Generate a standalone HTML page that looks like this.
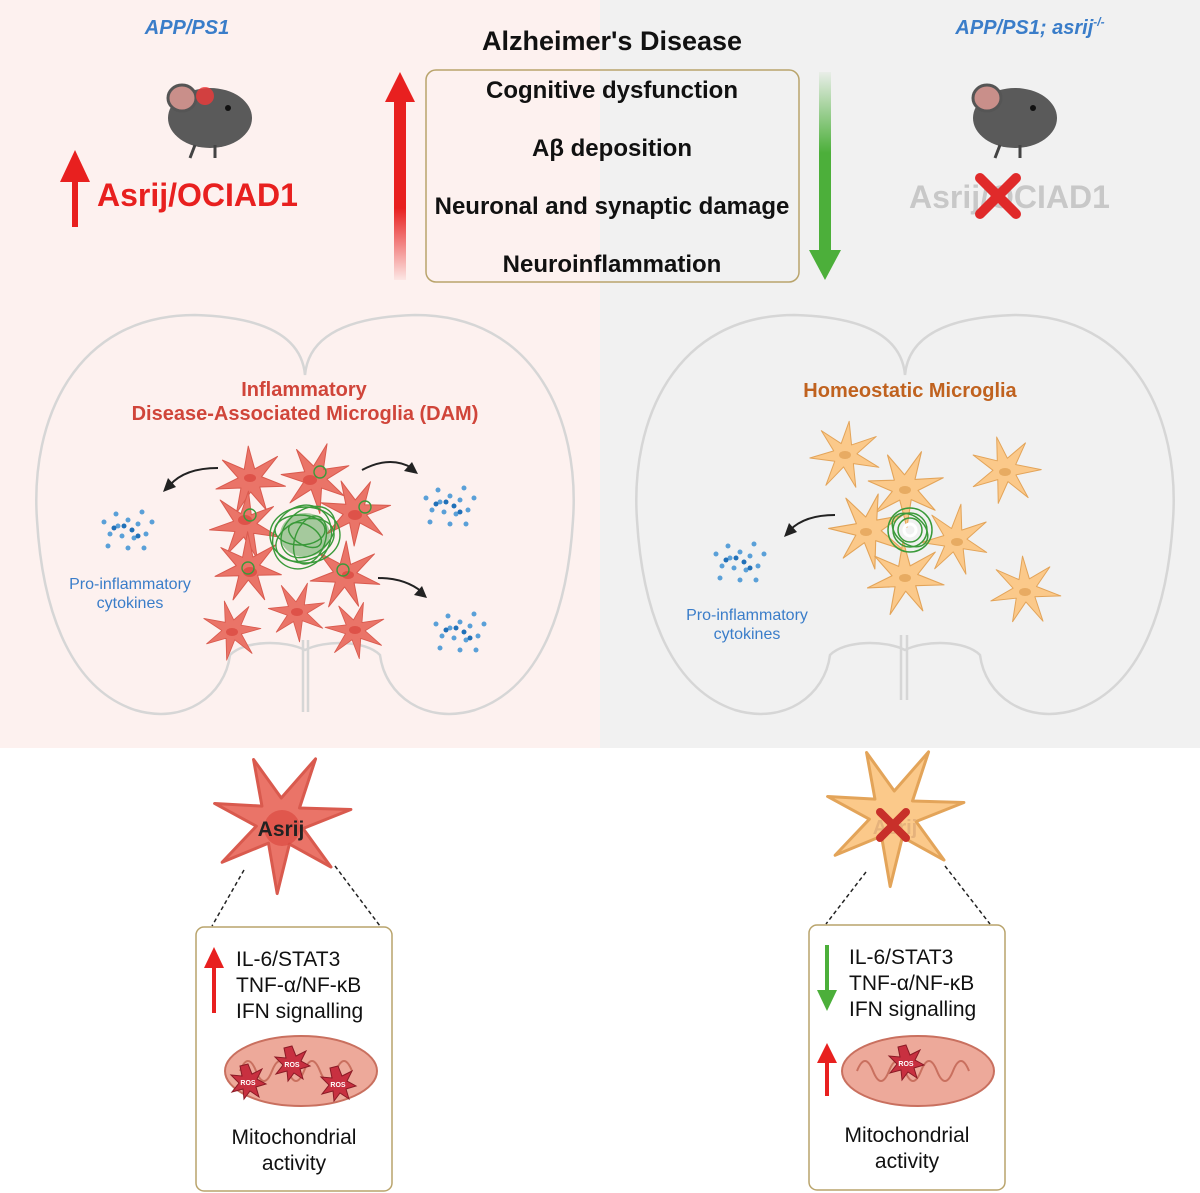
<!DOCTYPE html>
<html><head><meta charset="utf-8"><style>
body{margin:0;width:1200px;height:1193px;overflow:hidden;background:#fff}
svg{display:block;font-family:"Liberation Sans",Arial,sans-serif}
</style></head><body>
<svg width="1200" height="1193" viewBox="0 0 1200 1193" xmlns="http://www.w3.org/2000/svg">
<defs>
<linearGradient id="rg" x1="0" y1="0" x2="0" y2="1"><stop offset="0" stop-color="#e8201f"/><stop offset="0.6" stop-color="#e8201f"/><stop offset="1" stop-color="#e8201f" stop-opacity="0.05"/></linearGradient>
<linearGradient id="gg" x1="0" y1="0" x2="0" y2="1"><stop offset="0" stop-color="#4caf3a" stop-opacity="0.05"/><stop offset="0.45" stop-color="#4caf3a"/><stop offset="1" stop-color="#4caf3a"/></linearGradient>
<symbol id="cell" viewBox="-40 -40 80 80" overflow="visible">
<polygon points="36,0 10.8,5.2 21.2,26.6 2.7,11.7 -7.6,35 -7.5,9.4 -32,14.8 -12,0 -30.6,-14.8 -7.5,-9.4 -7.6,-33.1 2.7,-11.7 23,-28 10.8,-5.2" stroke-linejoin="round"/>
</symbol>
<symbol id="dots" overflow="visible">
<g fill="#5aa0d8"><circle cx="0" cy="0" r="2.5"/><circle cx="10" cy="-6" r="2.5"/><circle cx="20" cy="-2" r="2.5"/><circle cx="-8" cy="8" r="2.5"/><circle cx="4" cy="10" r="2.5"/><circle cx="16" cy="12" r="2.5"/><circle cx="28" cy="8" r="2.5"/><circle cx="-14" cy="-4" r="2.5"/><circle cx="-2" cy="-12" r="2.5"/><circle cx="24" cy="-14" r="2.5"/><circle cx="-10" cy="20" r="2.5"/><circle cx="10" cy="22" r="2.5"/><circle cx="26" cy="22" r="2.5"/><circle cx="34" cy="-4" r="2.5"/></g>
<g fill="#2070b8"><circle cx="6" cy="0" r="2.5"/><circle cx="14" cy="4" r="2.5"/><circle cx="-4" cy="2" r="2.5"/><circle cx="20" cy="10" r="2.5"/></g>
</symbol>
<symbol id="ros" viewBox="-20 -20 40 40" overflow="visible">
<polygon points="0,-18 4,-8 14,-13 9,-3 18,2 8,5 11,15 2,9 -4,17 -5,7 -16,10 -9,1 -17,-7 -6,-6 -8,-16" fill="#c83040" stroke="#8a1a25" stroke-width="1"/>
<text x="0" y="3" font-size="7" fill="#fff" text-anchor="middle" font-weight="bold">ROS</text>
</symbol>
</defs>
<rect x="0" y="0" width="600" height="748" fill="#fdf1ef"/>
<rect x="600" y="0" width="600" height="748" fill="#f1f1f1"/>

<!-- Brains -->
<g fill="none" stroke="#d6d6d6" stroke-width="2.5">
<path d="M305,375 Q300,318 195,315 C75,315 30,420 37,520 C43,620 75,690 135,710 C185,725 225,695 230,655 C245,640 285,640 305,650 C325,640 365,640 380,655 C385,695 425,725 475,710 C535,690 567,620 573,520 C580,420 535,315 415,315 Q310,318 305,375Z"/>
<path d="M303,640 L303,712 M308,640 L308,712"/>
<path d="M905,375 Q900,318 795,315 C675,315 630,420 637,520 C643,620 675,690 735,710 C785,725 825,695 830,655 C845,640 885,640 905,650 C925,640 965,640 980,655 C985,695 1025,725 1075,710 C1135,690 1167,620 1173,520 C1180,420 1135,315 1015,315 Q910,318 905,375Z"/>
<path d="M901,635 L901,700 M907,635 L907,700"/>
</g>

<!-- Top text -->
<text x="612" y="50" font-size="27" font-weight="bold" text-anchor="middle" fill="#111">Alzheimer's Disease</text>
<rect x="426" y="70" width="373" height="212" rx="10" fill="none" stroke="#b9a46c" stroke-width="1.5"/>
<g font-size="24" font-weight="bold" text-anchor="middle" fill="#111">
<text x="612" y="98">Cognitive dysfunction</text>
<text x="612" y="156">Aβ deposition</text>
<text x="612" y="214">Neuronal and synaptic damage</text>
<text x="612" y="272">Neuroinflammation</text>
</g>
<rect x="394" y="100" width="12" height="180" fill="url(#rg)"/>
<polygon points="385,102 400,72 415,102" fill="#e8201f"/>
<rect x="819" y="72" width="12" height="180" fill="url(#gg)"/>
<polygon points="809,250 825,280 841,250" fill="#4caf3a"/>

<!-- left header -->
<text x="187" y="34" font-size="20" font-weight="bold" font-style="italic" text-anchor="middle" fill="#3a7dc9">APP/PS1</text>
<g>
<ellipse cx="210" cy="118" rx="42" ry="30" fill="#5a5a5a"/>
<polygon points="240,100 252,118 240,132" fill="#5a5a5a"/>
<ellipse cx="182" cy="98" rx="14" ry="13" fill="#c98f8a" stroke="#555" stroke-width="3"/>
<circle cx="205" cy="96" r="9" fill="#f03a3a" opacity="0.8"/>
<circle cx="228" cy="108" r="3" fill="#111"/>
<path d="M195,145 L190,158 M215,145 L215,158" stroke="#444" stroke-width="3"/>
</g>
<rect x="72" y="175" width="6" height="52" fill="#e8201f"/>
<polygon points="60,182 75,150 90,182" fill="#e8201f"/>
<text x="97" y="206" font-size="32" font-weight="bold" fill="#e8201f">Asrij/OCIAD1</text>

<!-- right header -->
<text x="1030" y="34" font-size="20" font-weight="bold" font-style="italic" text-anchor="middle" fill="#3a7dc9">APP/PS1; asrij<tspan font-size="12" dy="-8">-/-</tspan></text>
<g>
<ellipse cx="1015" cy="118" rx="42" ry="30" fill="#5a5a5a"/>
<polygon points="1045,100 1057,118 1045,132" fill="#5a5a5a"/>
<ellipse cx="987" cy="98" rx="14" ry="13" fill="#c98f8a" stroke="#555" stroke-width="3"/>
<circle cx="1033" cy="108" r="3" fill="#111"/>
<path d="M1000,145 L995,158 M1020,145 L1020,158" stroke="#444" stroke-width="3"/>
</g>
<text x="909" y="208" font-size="32" font-weight="bold" fill="#c8c8c8">Asrij/OCIAD1</text>
<path d="M980,178 L1016,214 M1016,178 L980,214" stroke="#e02a2a" stroke-width="10" stroke-linecap="round"/>

<!-- brain labels -->
<g font-size="20" font-weight="bold" text-anchor="middle">
<text x="304" y="396" fill="#d0453a">Inflammatory</text>
<text x="305" y="420" fill="#d0453a">Disease-Associated Microglia (DAM)</text>
<text x="910" y="397" fill="#c0621f">Homeostatic Microglia</text>
</g>

<!-- red cells -->
<g fill="#ea7468" stroke="#d95a4e" stroke-width="1">
<use href="#cell" x="-40" y="-40" width="80" height="80" transform="translate(250,480) rotate(10)"/>
<use href="#cell" x="-40" y="-40" width="80" height="80" transform="translate(315,478) rotate(-20)"/>
<use href="#cell" x="-40" y="-40" width="80" height="80" transform="translate(355,512) rotate(40)"/>
<use href="#cell" x="-40" y="-40" width="80" height="80" transform="translate(245,525) rotate(70)"/>
<use href="#cell" x="-40" y="-40" width="80" height="80" transform="translate(248,568) rotate(-40)"/>
<use href="#cell" x="-40" y="-40" width="80" height="80" transform="translate(345,575) rotate(15)"/>
<use href="#cell" x="-40" y="-40" width="80" height="80" transform="translate(232,630) rotate(100) scale(0.85)"/>
<use href="#cell" x="-40" y="-40" width="80" height="80" transform="translate(297,612) rotate(-70) scale(0.85)"/>
<use href="#cell" x="-40" y="-40" width="80" height="80" transform="translate(355,630) rotate(30) scale(0.85)"/>
</g>
<g fill="#d9453c" opacity="0.7">
<ellipse cx="250" cy="478" rx="6" ry="4"/><ellipse cx="310" cy="480" rx="7" ry="5"/><ellipse cx="355" cy="515" rx="7" ry="5"/><ellipse cx="245" cy="520" rx="7" ry="5"/><ellipse cx="250" cy="572" rx="7" ry="5"/><ellipse cx="348" cy="575" rx="6" ry="4"/><ellipse cx="232" cy="632" rx="6" ry="4"/><ellipse cx="297" cy="612" rx="6" ry="4"/><ellipse cx="355" cy="630" rx="6" ry="4"/>
</g>
<g fill="none" stroke="#3a9a3a" stroke-width="1.4">
<ellipse cx="305" cy="535" rx="35" ry="28"/><ellipse cx="302" cy="537" rx="28" ry="33" transform="rotate(30 302 537)"/><ellipse cx="308" cy="532" rx="30" ry="22" transform="rotate(-40 308 532)"/><ellipse cx="305" cy="540" rx="20" ry="30" transform="rotate(70 305 540)"/><ellipse cx="300" cy="530" rx="25" ry="15"/><ellipse cx="310" cy="540" rx="15" ry="25" transform="rotate(20 310 540)"/><ellipse cx="305" cy="535" rx="10" ry="18" transform="rotate(-60 305 535)"/>
<circle cx="320" cy="472" r="6"/><circle cx="250" cy="515" r="6"/><circle cx="365" cy="507" r="6"/><circle cx="248" cy="568" r="6"/><circle cx="343" cy="570" r="6"/>
</g>
<ellipse cx="305" cy="535" rx="25" ry="22" fill="#3a9a3a" opacity="0.45"/>

<!-- orange cells -->
<g fill="#fbc98a" stroke="#e3a459" stroke-width="1">
<use href="#cell" x="-40" y="-40" width="80" height="80" transform="translate(845,455) rotate(20)"/>
<use href="#cell" x="-40" y="-40" width="80" height="80" transform="translate(905,488) rotate(-15) scale(1.1)"/>
<use href="#cell" x="-40" y="-40" width="80" height="80" transform="translate(1005,470) rotate(50)"/>
<use href="#cell" x="-40" y="-40" width="80" height="80" transform="translate(868,530) rotate(80) scale(1.1)"/>
<use href="#cell" x="-40" y="-40" width="80" height="80" transform="translate(955,540) rotate(-30)"/>
<use href="#cell" x="-40" y="-40" width="80" height="80" transform="translate(905,578) rotate(10) scale(1.1)"/>
<use href="#cell" x="-40" y="-40" width="80" height="80" transform="translate(1025,590) rotate(60)"/>
</g>
<g fill="#e3a459" opacity="0.8">
<ellipse cx="845" cy="455" rx="6" ry="4"/><ellipse cx="905" cy="490" rx="6" ry="4"/><ellipse cx="1005" cy="472" rx="6" ry="4"/><ellipse cx="866" cy="532" rx="6" ry="4"/><ellipse cx="957" cy="542" rx="6" ry="4"/><ellipse cx="905" cy="578" rx="6" ry="4"/><ellipse cx="1025" cy="592" rx="6" ry="4"/>
</g>
<g fill="none" stroke="#3a9a3a" stroke-width="1.5">
<circle cx="910" cy="530" r="22"/><circle cx="910" cy="530" r="17"/><circle cx="910" cy="530" r="12"/><ellipse cx="910" cy="530" rx="20" ry="14" transform="rotate(40 910 530)"/><circle cx="910" cy="530" r="6" stroke="#fff" stroke-width="3"/>
</g>

<!-- dots -->
<use href="#dots" x="118" y="526"/>
<use href="#dots" x="440" y="502"/>
<use href="#dots" x="450" y="628"/>
<use href="#dots" x="730" y="558"/>

<!-- curved arrows -->
<g fill="none" stroke="#222" stroke-width="2">
<path d="M218,468 Q185,468 170,485"/><path d="M362,470 Q390,455 412,468"/><path d="M378,578 Q405,578 422,592"/><path d="M835,515 Q805,515 790,530"/>
</g>
<g fill="#222">
<polygon points="163,492 168,478 176,487"/><polygon points="418,474 404,471 412,462"/><polygon points="427,598 414,595 422,586"/><polygon points="784,537 789,523 797,532"/>
</g>
<g font-size="16" fill="#3a7dc9" text-anchor="middle">
<text x="130" y="589">Pro-inflammatory</text><text x="130" y="608">cytokines</text>
<text x="747" y="620">Pro-inflammatory</text><text x="747" y="639">cytokines</text>
</g>

<!-- bottom left -->
<g fill="#ea7468" stroke="#d95a4e" stroke-width="1.5">
<use href="#cell" x="-40" y="-40" width="80" height="80" transform="translate(280,822) rotate(-10) scale(2)"/>
</g>
<circle cx="282" cy="828" r="18" fill="#d9453c" opacity="0.6"/>
<text x="281" y="836" font-size="21" font-weight="bold" text-anchor="middle" fill="#222">Asrij</text>
<path d="M244,870 L212,926 M335,866 L380,926" stroke="#222" stroke-width="1.5" stroke-dasharray="4,3"/>
<rect x="196" y="927" width="196" height="264" rx="8" fill="#fff" stroke="#b9a46c" stroke-width="1.5"/>
<rect x="212" y="965" width="4" height="48" fill="#e8201f"/>
<polygon points="204,968 214,947 224,968" fill="#e8201f"/>
<g font-size="21" fill="#111"><text x="236" y="966">IL-6/STAT3</text><text x="236" y="992">TNF-α/NF-κB</text><text x="236" y="1018">IFN signalling</text></g>
<ellipse cx="301" cy="1071" rx="76" ry="35" fill="#eda99a" stroke="#c9705f" stroke-width="2"/>
<path d="M240,1071 q8,-20 16,0 q8,20 16,0 q8,-20 16,0 q8,20 16,0 q8,-20 16,0 q8,20 16,0 q8,-20 16,0" fill="none" stroke="#c9705f" stroke-width="2"/>
<use href="#ros" x="228" y="1062" width="40" height="40"/>
<use href="#ros" x="272" y="1044" width="40" height="40"/>
<use href="#ros" x="318" y="1064" width="40" height="40"/>
<g font-size="21" fill="#111" text-anchor="middle"><text x="294" y="1144">Mitochondrial</text><text x="294" y="1170">activity</text></g>

<!-- bottom right -->
<g fill="#fbc98a" stroke="#e3a459" stroke-width="1.5">
<use href="#cell" x="-40" y="-40" width="80" height="80" transform="translate(893,815) rotate(-10) scale(2)"/>
</g>
<text x="895" y="834" font-size="20" font-weight="bold" text-anchor="middle" fill="#e5b27c">Asrij</text>
<path d="M880,812 L906,838 M906,812 L880,838" stroke="#c8302a" stroke-width="8" stroke-linecap="round"/>
<path d="M866,872 L826,924 M945,866 L990,924" stroke="#222" stroke-width="1.5" stroke-dasharray="4,3"/>
<rect x="809" y="925" width="196" height="265" rx="8" fill="#fff" stroke="#b9a46c" stroke-width="1.5"/>
<rect x="825" y="945" width="4" height="48" fill="#4caf3a"/>
<polygon points="817,990 827,1011 837,990" fill="#4caf3a"/>
<g font-size="21" fill="#111"><text x="849" y="964">IL-6/STAT3</text><text x="849" y="990">TNF-α/NF-κB</text><text x="849" y="1016">IFN signalling</text></g>
<rect x="825" y="1060" width="4" height="36" fill="#e8201f"/>
<polygon points="817,1063 827,1043 837,1063" fill="#e8201f"/>
<ellipse cx="918" cy="1071" rx="76" ry="35" fill="#eda99a" stroke="#c9705f" stroke-width="2"/>
<path d="M857,1071 q8,-20 16,0 q8,20 16,0 q8,-20 16,0 q8,20 16,0 q8,-20 16,0 q8,20 16,0 q8,-20 16,0" fill="none" stroke="#c9705f" stroke-width="2"/>
<use href="#ros" x="886" y="1043" width="40" height="40"/>
<g font-size="21" fill="#111" text-anchor="middle"><text x="907" y="1142">Mitochondrial</text><text x="907" y="1168">activity</text></g>
</svg>
</body></html>
